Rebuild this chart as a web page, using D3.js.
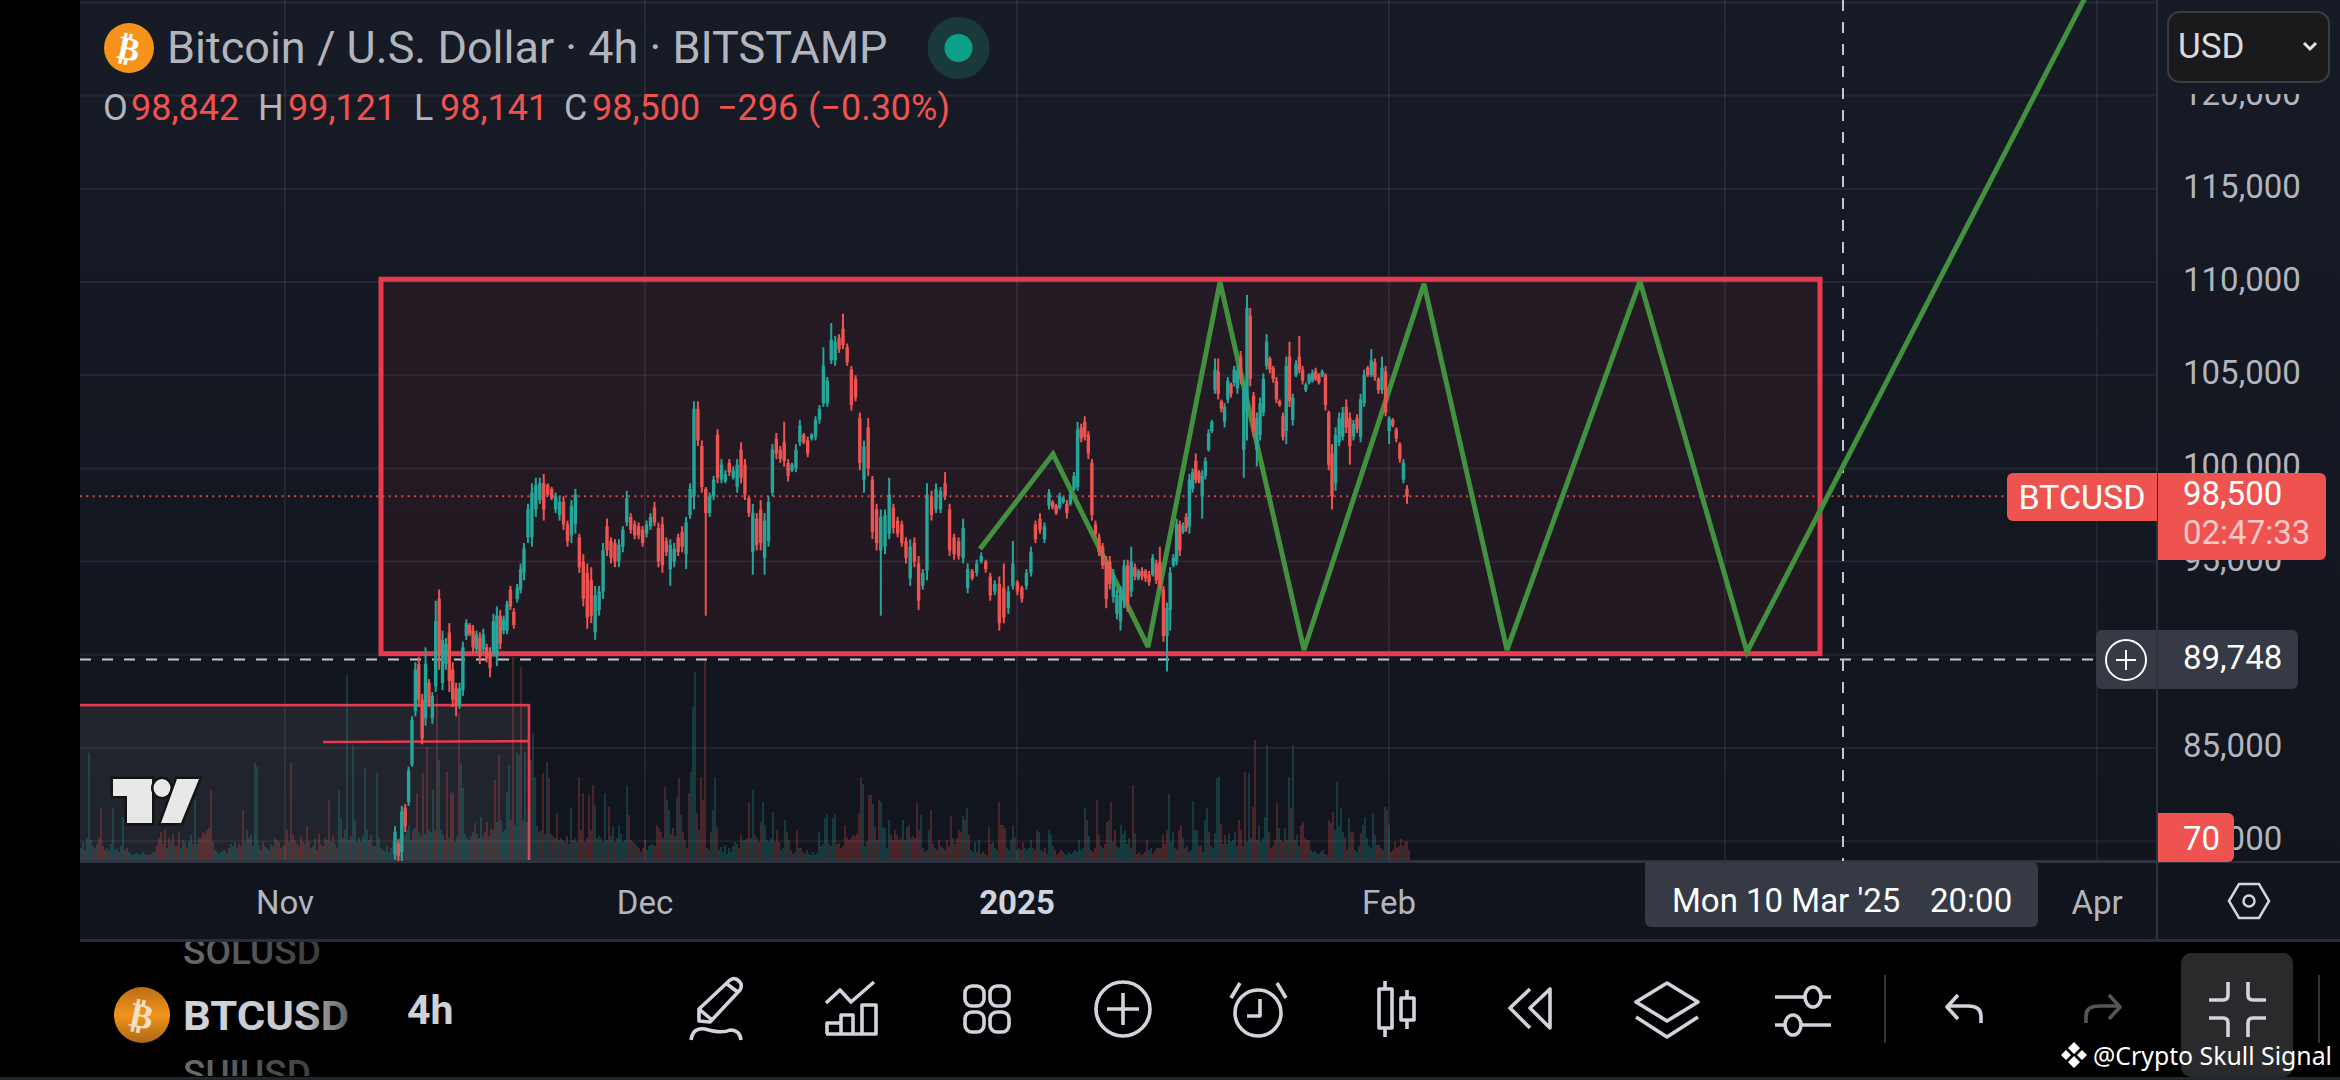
<!DOCTYPE html>
<html><head><meta charset="utf-8">
<script src="https://cdnjs.cloudflare.com/ajax/libs/d3/7.8.5/d3.min.js"></script>
<style>html,body{margin:0;padding:0;background:#000;overflow:hidden}svg{display:block}text{font-family:Roboto,sans-serif}</style>
</head><body><div id="c"></div>
<script>
// ---- chart values (prices in thousand USD) ----
const candleHigh=[80.8,80.1,81.9,82.0,84.0,86.7,89.6,89.9,87.9,90.4,
88.7,88.0,92.9,93.5,91.3,90.9,91.7,89.6,88.5,88.5,
90.7,91.9,91.7,91.6,91.3,91.2,91.4,90.6,90.4,92.2,
92.6,92.4,92.1,92.9,93.7,92.5,93.8,94.9,96.0,98.1,
99.2,99.5,99.5,99.7,99.2,99.0,98.7,98.5,98.5,97.2,
98.3,98.9,96.5,95.4,94.9,94.7,93.7,93.7,96.0,97.3,
96.3,96.2,96.2,96.9,98.8,97.6,97.2,97.1,96.9,97.2,
97.6,98.2,97.1,97.4,96.3,96.2,96.0,96.5,96.9,97.4,
99.2,103.6,103.6,101.5,99.0,98.7,99.6,102.1,100.5,99.9,
100.5,100.1,100.5,101.4,100.5,98.5,98.1,97.6,98.3,97.6,
98.5,101.3,101.9,101.2,102.5,100.5,100.3,101.3,102.6,101.9,
101.7,101.9,102.8,103.4,106.5,104.9,107.8,107.1,107.2,108.3,
106.7,105.5,105.0,103.0,101.5,102.7,99.6,98.1,97.8,97.8,
99.5,98.1,97.4,97.2,96.3,96.2,96.3,95.3,94.6,99.2,
98.8,99.2,99.0,99.8,98.1,96.5,96.3,97.3,94.9,94.6,
95.1,95.5,95.1,94.4,94.0,94.2,94.9,93.7,96.1,94.0,
93.7,94.6,95.8,97.2,97.6,97.1,98.9,98.3,98.1,98.7,
98.5,98.3,98.8,99.8,102.5,102.4,102.8,102.0,100.5,97.2,
96.5,96.0,95.3,95.3,94.6,93.5,93.7,95.1,95.1,95.8,
94.9,94.6,94.7,94.6,94.5,95.4,95.1,95.8,93.7,92.8,
94.7,95.4,97.3,97.2,97.1,97.6,99.7,100.0,100.8,99.9,
99.9,100.6,102.1,102.6,105.9,105.9,103.7,103.5,104.9,104.6,
105.5,105.5,106.3,104.7,109.3,108.6,104.1,103.0,103.8,105.1,
107.2,106.0,105.5,104.9,103.7,103.0,106.0,106.8,104.0,105.8,
107.1,105.5,104.6,105.1,105.3,105.4,105.1,105.3,105.1,103.1,
101.3,102.2,103.0,103.3,103.7,103.0,102.6,102.9,104.0,105.3,
105.5,106.4,105.9,104.9,106.0,105.5,102.8,102.7,102.2,101.4,
100.5,99.1];
const candleLow=[79.0,78.9,78.9,80.5,81.9,84.0,86.7,87.2,85.2,86.2,
87.2,86.3,88.0,89.2,88.1,89.2,88.0,87.2,86.7,87.1,
87.8,90.8,91.0,90.1,90.1,89.5,90.1,89.6,88.8,89.9,
89.4,90.3,91.1,91.1,92.4,91.4,92.8,93.3,94.0,96.0,
95.8,97.4,98.1,97.2,98.5,98.3,97.6,97.2,96.7,95.8,
96.0,96.5,94.4,92.6,91.4,91.7,90.8,92.1,93.0,95.3,
94.9,94.7,94.7,95.5,96.9,96.5,96.2,96.2,95.8,96.3,
96.7,96.9,94.7,94.4,95.3,93.7,94.7,95.3,95.5,94.6,
97.3,97.8,101.2,98.7,92.1,97.4,98.3,99.2,99.2,99.2,
99.6,99.4,98.7,99.2,98.3,97.4,94.3,95.6,95.6,94.3,
95.8,98.5,100.5,100.3,100.1,99.3,99.8,99.8,101.2,101.3,
100.6,101.5,101.5,102.4,103.3,103.3,105.6,105.5,106.2,106.4,
105.5,103.1,103.6,99.9,98.7,99.6,96.2,95.6,92.1,95.4,
96.2,96.5,96.3,95.8,94.9,93.7,94.7,92.4,93.5,94.0,
97.2,97.6,97.6,98.3,95.3,95.1,95.1,94.9,93.3,94.0,
94.2,94.9,94.4,92.9,93.2,91.3,91.7,92.2,93.5,93.2,
92.8,93.5,94.2,96.0,96.5,96.0,97.8,97.8,97.5,97.8,
98.1,97.3,98.0,98.8,98.8,101.4,101.5,100.5,97.2,96.3,
95.3,94.6,92.5,93.5,92.8,91.9,91.3,92.5,92.3,93.1,
94.0,94.0,94.0,93.9,93.7,94.2,93.8,93.5,90.7,89.1,
91.3,94.7,94.8,95.3,96.5,96.6,96.5,98.7,99.2,99.2,
97.3,99.4,100.9,101.9,104.0,103.7,103.0,102.2,103.5,103.8,
104.4,104.0,104.5,99.5,101.5,104.4,101.7,100.1,101.5,102.8,
105.3,105.1,104.6,103.5,103.3,101.5,101.3,103.3,102.3,104.9,
105.1,104.5,104.1,104.5,104.6,104.7,104.5,104.9,103.1,99.9,
97.8,98.8,101.2,101.5,101.9,100.2,101.5,101.9,101.4,103.3,
104.9,104.9,104.7,104.0,104.0,102.8,101.3,102.2,101.4,100.3,
99.2,98.1];
const candleOpen=[79.3,79.9,79.4,81.8,82.1,84.1,87.0,89.5,87.6,86.6,
88.5,86.6,88.3,93.0,88.5,89.5,91.2,89.2,88.2,87.3,
88.1,91.0,91.6,91.3,90.3,90.9,90.3,90.4,90.1,90.1,
89.9,92.1,91.3,91.3,93.5,92.3,93.0,93.5,94.4,96.3,
96.3,97.8,98.3,99.2,99.1,98.9,97.8,97.5,98.2,97.0,
96.4,97.0,96.3,95.0,94.4,94.0,91.2,92.4,93.4,96.9,
96.1,96.0,95.0,95.8,97.1,97.4,97.0,96.9,96.7,96.5,
96.9,97.9,96.8,97.0,96.1,94.6,95.0,96.3,96.6,95.4,
97.5,98.5,103.2,101.2,98.9,97.6,98.5,101.8,99.4,99.3,
100.3,99.5,99.0,101.0,100.2,98.4,95.5,97.3,97.8,95.2,
96.1,98.7,101.6,101.0,101.4,100.3,99.9,100.0,101.4,101.8,
101.5,101.6,101.7,102.6,103.5,103.5,105.8,105.8,107.0,107.5,
106.5,105.3,104.8,102.7,99.4,102.2,99.4,97.8,95.6,95.8,
96.5,97.9,97.2,97.0,96.1,94.1,96.0,94.9,93.7,94.5,
98.5,97.8,97.8,99.2,97.8,96.3,96.1,95.2,93.6,94.5,
94.4,95.0,95.0,94.2,93.4,93.8,93.6,92.5,93.7,93.9,
93.6,93.7,94.4,97.0,97.3,96.2,98.0,98.2,98.0,97.9,
98.2,98.1,98.1,98.9,99.0,102.2,102.5,101.8,100.3,97.0,
96.3,95.8,95.0,95.0,93.1,92.2,91.8,92.9,94.8,93.4,
94.7,94.1,94.5,94.5,94.3,94.3,94.9,95.0,93.5,91.0,
92.4,94.8,95.0,97.0,96.6,97.4,96.9,98.9,100.4,99.8,
98.5,99.6,101.0,102.0,104.2,105.2,103.6,102.5,103.7,104.5,
104.6,104.3,106.0,101.0,103.0,108.2,103.9,101.0,101.8,103.0,
105.5,105.9,105.4,104.7,103.6,102.8,102.0,106.0,102.6,105.0,
106.0,105.3,104.2,104.6,104.7,105.2,105.0,105.0,105.0,103.0,
100.8,99.2,101.4,101.7,103.3,102.7,101.7,102.7,101.7,103.5,
105.4,105.0,105.7,104.8,104.2,105.2,102.0,102.6,102.1,101.3,
99.4,98.9];
const candleClose=[80.5,79.2,81.6,80.8,83.8,86.5,89.2,87.6,85.5,89.5,
87.4,87.8,91.8,90.0,90.8,90.6,88.6,87.6,87.3,88.2,
90.4,91.7,91.1,90.4,91.1,89.9,91.1,89.8,89.3,91.8,
92.1,90.6,91.9,92.7,92.6,91.6,93.6,94.6,95.7,97.8,
98.7,99.1,99.2,97.8,98.6,98.4,98.5,98.2,97.0,96.1,
98.0,98.6,94.7,93.0,92.0,92.1,93.2,93.4,95.6,95.6,
95.2,95.0,95.9,96.7,98.4,96.7,96.4,96.4,96.0,97.0,
97.4,97.1,95.0,94.8,95.5,95.9,95.7,95.5,95.8,97.1,
98.9,103.2,101.5,99.0,97.6,98.5,99.4,99.5,100.2,99.7,
99.8,99.9,100.2,99.5,98.6,97.6,97.6,95.9,96.0,97.2,
98.2,101.0,100.8,100.5,100.4,99.6,100.2,101.0,102.3,101.4,
100.8,101.8,102.6,103.2,105.5,104.7,106.9,106.8,106.4,106.6,
105.7,103.4,103.8,100.3,101.2,100.0,96.6,96.0,97.4,97.5,
98.6,96.8,96.5,96.0,95.2,95.8,95.0,92.9,94.4,98.6,
97.5,98.9,98.8,98.5,95.6,95.4,95.3,96.8,94.6,94.1,
94.9,95.3,94.6,93.2,93.8,91.7,92.0,93.4,94.9,93.4,
93.0,94.4,95.5,96.2,96.7,96.9,98.7,97.9,97.6,98.5,
98.4,97.6,98.6,99.6,102.1,101.6,101.7,100.8,97.5,96.5,
95.5,94.8,93.0,93.8,94.3,93.2,93.4,94.8,92.8,95.0,
94.2,94.5,94.2,94.1,93.9,95.2,94.0,93.7,91.0,92.5,
94.4,95.2,97.0,95.6,96.9,96.8,99.4,99.8,99.4,99.3,
99.6,100.4,101.9,102.5,105.3,104.0,103.2,103.3,104.7,104.0,
105.3,105.2,104.8,104.3,108.6,104.8,102.0,102.7,103.5,104.8,
106.8,105.3,104.8,103.7,103.4,101.7,105.5,103.6,103.8,105.6,
105.3,104.7,104.5,105.0,105.1,104.8,104.6,105.2,103.4,100.2,
98.5,101.8,102.7,103.0,102.2,101.2,102.4,102.1,103.7,105.0,
105.0,105.8,104.9,104.2,105.4,103.0,102.7,102.3,101.6,100.5,
100.3,98.5];
// bar position anchors: bar index -> date
const candleAnchorIndex=[0,38,81,119,139,166,199,224,250,271];
const candleAnchorDate=["2024-11-10T04:00Z","2024-11-20T22:00Z","2024-12-05T02:00Z","2024-12-17T12:00Z","2024-12-24T12:00Z","2025-01-03T16:00Z","2025-01-13T12:00Z","2025-01-20T04:00Z","2025-01-27T06:00Z","2025-02-02T12:00Z"];

// volume per 4h bar: + closes up (teal), - closes down (red), arbitrary units
const volumeStart="2024-10-15T00:00Z";
const volumeSigned=[12,18,-10,22,107,20,14,-12,16,-22,-52,-14,-10,12,-9,16,52,10,12,-8,
14,43,10,-12,8,6,5,6,7,5,6,8,6,-5,5,-6,8,9,-14,-22,
-28,-16,-30,12,-22,18,-26,14,-14,-28,12,20,-18,-12,18,25,-16,60,16,-22,
-22,-28,-26,-30,-32,-70,-18,10,8,6,8,9,10,7,-12,16,14,18,12,-16,
-14,-50,18,30,-22,25,14,97,93,15,-10,-18,14,12,-10,16,-14,22,-20,-18,
-12,14,-16,-30,18,-97,-25,-20,16,-14,-24,-18,16,-34,-18,12,-14,22,-10,-26,
-16,14,-22,20,-60,18,-24,16,-12,70,42,-22,30,185,20,-24,115,40,-18,22,
-18,24,92,30,-20,25,14,-14,87,22,12,-10,9,14,8,12,18,-12,10,22,
25,30,-25,30,35,20,-30,32,-67,28,24,-87,26,-113,30,28,70,-30,-166,100,
30,25,-20,-88,22,-68,-67,18,24,-147,97,72,26,22,20,-24,28,-37,26,-22,
43,24,-28,-38,24,-32,30,-80,38,-105,40,28,30,68,95,-40,-203,35,108,105,
-193,40,108,-38,50,-100,127,83,34,-28,30,-87,26,98,-82,26,-24,22,-47,20,
-22,20,18,-24,16,52,-20,22,18,-83,-30,-67,18,-22,-65,-30,-75,55,22,24,
22,-18,67,20,-53,24,33,-18,22,35,26,18,20,75,-45,-20,18,-16,14,-12,
8,-12,-20,10,14,15,16,-14,-35,-32,-28,22,-73,60,50,-26,-32,24,63,-82,
45,-28,20,-12,-67,88,153,188,-47,30,-83,-60,-202,12,10,-28,50,83,-33,10,
13,8,15,6,12,8,14,18,16,-12,-25,20,20,-22,-57,22,70,-25,22,-18,
-38,58,35,20,18,22,48,-18,-30,-18,10,12,40,-28,20,-10,6,8,-30,12,
-12,8,-6,10,6,5,8,5,7,28,14,16,42,46,-16,14,42,46,-16,-17,
-12,-14,-35,-23,-20,-22,-25,-24,-26,-47,-83,76,14,18,-65,-65,56,-33,20,-60,
58,33,32,12,40,-25,-20,-30,-25,-20,-22,40,-20,33,-35,22,-24,-22,-57,-30,
45,-12,-8,10,30,-50,-16,12,-10,-20,14,-12,10,-20,-14,-44,22,-16,-22,-30,
-28,44,-40,52,-25,10,8,18,-8,20,6,-8,-6,5,-33,-16,18,12,10,-58,
-35,-35,-32,12,10,20,35,-23,10,12,-10,-18,12,10,12,20,12,-10,-30,28,
10,-8,-12,6,30,25,14,-10,-5,-7,-10,-8,6,5,8,6,8,10,8,20,
10,12,52,-40,24,-10,-8,-12,-60,-25,14,12,-16,-38,40,-58,18,-30,14,12,
35,26,30,16,22,12,-75,27,-6,-8,-5,6,-8,-20,10,12,-6,-9,-12,12,
-12,-25,-16,-30,66,18,28,12,-10,-30,-35,22,-12,14,-8,10,59,30,30,-14,
-15,8,40,52,-28,14,12,27,82,83,-36,16,-25,16,27,18,20,28,14,-40,
-30,14,-88,18,87,22,-53,-120,-20,35,18,22,43,115,-28,-12,-14,-20,-57,32,
-20,-18,32,-20,83,-52,115,-20,25,14,-35,-38,-22,-20,-20,10,8,9,7,6,
8,-10,6,5,-40,-37,-48,30,78,34,52,28,-22,-10,42,-28,-28,10,8,14,
-27,35,43,22,14,12,47,25,-15,-15,-12,10,53,-50,35,-8,-10,-18,-12,-14,
-21,14,-18,-19,-10];

// projected zig-zag drawn on the chart
const greenTime=["2024-12-28T22:00Z","2025-01-04T00:00Z","2025-01-11T22:00Z","2025-01-17T22:00Z","2025-01-24T22:00Z","2025-02-03T22:00Z","2025-02-10T20:00Z","2025-02-21T22:00Z","2025-03-02T20:00Z","2025-04-01T06:00Z"];
const greenPrice=[95.68,100.77,90.42,110.0,90.26,109.9,90.26,110.05,90.15,126.8];
// red range boxes
const mainBoxTime=["2024-11-09T00:00Z","2025-03-08T22:00Z"];
const mainBoxPrice=[110.15,90.06];
const oldBoxTime=["2024-09-30T00:00Z","2024-11-21T08:00Z"];
const oldBoxPrice=[87.3,77.0];
const oldSegTime=["2024-11-04T04:00Z","2024-11-21T08:00Z"];
const oldSegPrice=[85.32,85.37];

const priceTicks=[125,120,115,110,105,100,95,90,85,80];
const hiddenPriceTickLabels=[125,90];
const monthTickDates=["2024-11-01","2024-12-01","2025-01-01","2025-02-01","2025-03-01","2025-04-01"];
const monthTickLabels=["Nov","Dec","2025","Feb","","Apr"];
const lastPrice=98.5, crossPrice=89.748, crossTime="2025-03-10T20:00Z";

const legendHead=["O","H","L","C"];
const legendVals=["98,842","99,121","98,141","98,500"];
const legendHeadX=[103,258,414,564];
const legendValX=[131,288,440,592];

// ---- layout ----
const W=2340,H=1080,L=80,AX=2157,BOT=862,PANEL=941;
const date=s=>new Date(s);
const x=d3.scaleUtc().domain([date("2024-11-01T00:00Z"),date("2025-04-01T00:00Z")]).range([285,2097]);
const y=d3.scaleLinear().domain([85,110]).range([748,282]);
const vy=d3.scaleLinear().domain([0,300]).range([860,560]);
const barTime=d3.scaleLinear().domain(candleAnchorIndex).range(candleAnchorDate.map(s=>+date(s)));
const fmt=d3.format(",");
const GREY="#b2b5be",RED="#ef5350",TEAL="#26a69a",ICON="#d1d4dc";

const svg=d3.select("#c").append("svg").attr("width",W).attr("height",H).attr("viewBox",`0 0 ${W} ${H}`);
const defs=svg.append("defs");
const bg=defs.append("linearGradient").attr("id","bg").attr("x1",0).attr("x2",0).attr("y1",0).attr("y2",1);
bg.append("stop").attr("offset",0).attr("stop-color","#171b26");
bg.append("stop").attr("offset",1).attr("stop-color","#11141c");
defs.append("clipPath").attr("id","plot").append("rect").attr("x",L).attr("y",0).attr("width",AX-L).attr("height",BOT);
defs.append("clipPath").attr("id","list").append("rect").attr("x",150).attr("y",942).attr("width",300).attr("height",134);
defs.append("clipPath").attr("id","axisTop").append("rect").attr("x",2158).attr("y",94).attr("width",182).attr("height",790);
const fade=defs.append("linearGradient").attr("id","fade").attr("gradientUnits","userSpaceOnUse").attr("x1",183).attr("x2",352).attr("y1",0).attr("y2",0);
fade.append("stop").attr("offset",0).attr("stop-color","#d1d4dc");
fade.append("stop").attr("offset",.7).attr("stop-color","#c6c8ce");
fade.append("stop").attr("offset",1).attr("stop-color","#55575c");
const fade2=defs.append("linearGradient").attr("id","fade2").attr("gradientUnits","userSpaceOnUse").attr("x1",183).attr("x2",352).attr("y1",0).attr("y2",0);
fade2.append("stop").attr("offset",0).attr("stop-color","#6a6c70");
fade2.append("stop").attr("offset",1).attr("stop-color","#303133");
const orange=defs.append("linearGradient").attr("id","orange").attr("x1",0).attr("x2",0).attr("y1",0).attr("y2",1);
orange.append("stop").attr("offset",0).attr("stop-color","#b96f18");
orange.append("stop").attr("offset",.5).attr("stop-color","#f2921c");
orange.append("stop").attr("offset",1).attr("stop-color","#ad6815");

svg.append("rect").attr("width",W).attr("height",H).attr("fill","#000");
svg.append("rect").attr("x",L).attr("y",0).attr("width",W-L).attr("height",PANEL).attr("fill","url(#bg)");

const plot=svg.append("g").attr("clip-path","url(#plot)");
// grid
plot.append("g").selectAll("line").data(priceTicks).join("line").attr("x1",L).attr("x2",AX).attr("y1",d=>y(d)).attr("y2",d=>y(d)).attr("stroke","#f0f3fa").attr("stroke-opacity",.07).attr("stroke-width",2);
plot.append("g").selectAll("line").data(monthTickDates).join("line").attr("x1",d=>x(date(d+"T00:00Z"))).attr("x2",d=>x(date(d+"T00:00Z"))).attr("y1",0).attr("y2",BOT).attr("stroke","#f0f3fa").attr("stroke-opacity",.07).attr("stroke-width",2);

// old box behind volume
const rectOf=(t,p)=>({x:x(date(t[0])),y:y(p[0]),w:x(date(t[1]))-x(date(t[0])),h:y(p[1])-y(p[0])});
const ob=rectOf(oldBoxTime,oldBoxPrice);
plot.append("rect").attr("x",ob.x).attr("y",ob.y).attr("width",ob.w).attr("height",ob.h).attr("fill","#ffffff").attr("fill-opacity",.065);
plot.append("rect").attr("x",ob.x).attr("y",ob.y).attr("width",ob.w).attr("height",ob.h).attr("fill","none").attr("stroke","#e8394f").attr("stroke-width",2.6);
plot.append("line").attr("x1",x(date(oldSegTime[0]))).attr("x2",x(date(oldSegTime[1]))).attr("y1",y(oldSegPrice[0])).attr("y2",y(oldSegPrice[1])).attr("stroke","#e8394f").attr("stroke-width",2.6);

// volume
const vStart=+date(volumeStart);
plot.append("g").selectAll("line").data(volumeSigned).join("line")
 .attr("x1",(d,i)=>x(new Date(vStart+i*4*3600e3))).attr("x2",(d,i)=>x(new Date(vStart+i*4*3600e3)))
 .attr("y1",vy(0)).attr("y2",d=>vy(Math.abs(d)))
 .attr("stroke",d=>d>=0?TEAL:RED).attr("stroke-opacity",.48).attr("stroke-width",1.1);
plot.append("line").attr("x1",L).attr("x2",AX).attr("y1",861).attr("y2",861).attr("stroke","#2e323e").attr("stroke-width",2);

// main box
const mb=rectOf(mainBoxTime,mainBoxPrice);
plot.append("rect").attr("x",mb.x).attr("y",mb.y).attr("width",mb.w).attr("height",mb.h).attr("fill","#f23645").attr("fill-opacity",.07);

// crosshair and last price
plot.append("line").attr("x1",L).attr("x2",2007).attr("y1",y(lastPrice)).attr("y2",y(lastPrice)).attr("stroke",RED).attr("stroke-width",2).attr("stroke-dasharray","2 4.3").attr("stroke-opacity",.85);
plot.append("line").attr("x1",L).attr("x2",2096).attr("y1",y(crossPrice)).attr("y2",y(crossPrice)).attr("stroke","#c4c6cd").attr("stroke-width",2).attr("stroke-dasharray","11 11");
plot.append("line").attr("x1",x(date(crossTime))).attr("x2",x(date(crossTime))).attr("y1",0).attr("y2",BOT).attr("stroke","#c4c6cd").attr("stroke-width",2).attr("stroke-dasharray","11 11");

plot.append("rect").attr("x",mb.x).attr("y",mb.y).attr("width",mb.w).attr("height",mb.h).attr("fill","none").attr("stroke","#e8394f").attr("stroke-width",5);

// zig-zag
plot.append("path").attr("d",d3.line().x(d=>x(date(d[0]))).y(d=>y(d[1]))(greenTime.map((t,i)=>[t,greenPrice[i]]))).attr("fill","none").attr("stroke","#41913f").attr("stroke-width",5).attr("stroke-linejoin","miter").attr("stroke-miterlimit",3);

// candles
const cg=plot.append("g");
candleHigh.forEach((h,i)=>{
 const cx=x(new Date(barTime(i))),o=candleOpen[i],c=candleClose[i],col=c>=o?TEAL:RED;
 cg.append("line").attr("x1",cx).attr("x2",cx).attr("y1",y(h)).attr("y2",y(candleLow[i])).attr("stroke",col).attr("stroke-width",2);
 cg.append("rect").attr("x",cx-1.7).attr("width",3.4).attr("y",y(Math.max(o,c))).attr("height",Math.max(1,Math.abs(y(o)-y(c)))).attr("fill",col);
});

// TradingView mark
const tv=svg.append("g").attr("fill","#e8e8e8").attr("stroke","#141414").attr("stroke-width",5).attr("paint-order","stroke");
tv.append("path").attr("d","M113 779H152V823H127V796H113Z");
tv.append("ellipse").attr("cx",162).attr("cy",788).attr("rx",8.5).attr("ry",9);
tv.append("path").attr("d","M177 779H199L181 823H161Z");

// price axis
svg.append("line").attr("x1",AX).attr("x2",AX).attr("y1",0).attr("y2",939).attr("stroke","#2e323e").attr("stroke-width",2);
svg.append("line").attr("x1",L).attr("x2",W).attr("y1",BOT).attr("y2",BOT).attr("stroke","#2e323e").attr("stroke-width",2);
svg.append("g").attr("clip-path","url(#axisTop)").selectAll("text").data(priceTicks.filter(d=>!hiddenPriceTickLabels.includes(d))).join("text").attr("x",2183).attr("y",d=>y(d)+9).attr("fill",GREY).attr("font-size",33).text(d=>fmt(d*1000));

// time axis
svg.append("g").selectAll("text").data(monthTickDates).join("text").attr("x",d=>x(date(d+"T00:00Z"))).attr("y",914).attr("text-anchor","middle").attr("fill",(d,i)=>monthTickLabels[i]==="2025"?"#d1d4dc":GREY).attr("font-weight",(d,i)=>monthTickLabels[i]==="2025"?700:400).attr("font-size",33).text((d,i)=>monthTickLabels[i]);
svg.append("path").attr("d","M1651 862H2032a6 6 0 0 1 6 6V921a6 6 0 0 1-6 6H1651a6 6 0 0 1-6-6V862Z").attr("fill","#363a45");
svg.append("text").attr("x",1672).attr("y",912).attr("fill","#fff").attr("font-size",33).text("Mon 10 Mar '25");
svg.append("text").attr("x",1930).attr("y",912).attr("fill","#fff").attr("font-size",33).text("20:00");
// settings hexagon
svg.append("path").attr("d","M2229 901L2239 884H2259L2269 901L2259 918H2239Z").attr("fill","none").attr("stroke",ICON).attr("stroke-width",2.5);
svg.append("circle").attr("cx",2249).attr("cy",901).attr("r",5.5).attr("fill","none").attr("stroke",ICON).attr("stroke-width",2.5);

// price labels
svg.append("path").attr("d","M2013 473H2157V521H2013a6 6 0 0 1-6-6V479a6 6 0 0 1 6-6Z").attr("fill",RED);
svg.append("text").attr("x",2082).attr("y",509).attr("text-anchor","middle").attr("fill","#fff").attr("font-size",34).text("BTCUSD");
svg.append("path").attr("d","M2158 473H2320a6 6 0 0 1 6 6V554a6 6 0 0 1-6 6H2158Z").attr("fill",RED);
svg.append("text").attr("x",2183).attr("y",505).attr("fill","#fff").attr("font-size",33).text(fmt(lastPrice*1000));
svg.append("text").attr("x",2183).attr("y",544).attr("fill","#fcc9c8").attr("font-size",33).text("02:47:33");
svg.append("path").attr("d","M2102 630H2292a6 6 0 0 1 6 6V683a6 6 0 0 1-6 6H2102a6 6 0 0 1-6-6V636a6 6 0 0 1 6-6Z").attr("fill","#363a45");
svg.append("line").attr("x1",AX).attr("x2",AX).attr("y1",630).attr("y2",689).attr("stroke","#2e323e").attr("stroke-width",2);
svg.append("circle").attr("cx",2126).attr("cy",660).attr("r",20).attr("fill","none").attr("stroke","#fff").attr("stroke-width",2);
svg.append("path").attr("d","M2126 650V670M2116 660H2136").attr("stroke","#fff").attr("stroke-width",2);
svg.append("text").attr("x",2183).attr("y",669).attr("fill","#fff").attr("font-size",33).text(fmt(Math.round(crossPrice*1000)));
svg.append("path").attr("d","M2158 813H2228a6 6 0 0 1 6 6V856a6 6 0 0 1-6 6H2158Z").attr("fill",RED);
svg.append("text").attr("x",2183).attr("y",850).attr("fill","#fff").attr("font-size",33).text("70");

// currency box
svg.append("rect").attr("x",2168).attr("y",12).attr("width",161).attr("height",70).attr("rx",12).attr("fill","#1a1a1c").attr("stroke","#3c3d41").attr("stroke-width",2);
svg.append("text").attr("x",2178).attr("y",58).attr("fill","#d9dadd").attr("font-size",35).text("USD");
svg.append("path").attr("d","M2304 43L2310 49L2316 43").attr("fill","none").attr("stroke","#e4e4e6").attr("stroke-width",3);

// legend
svg.append("circle").attr("cx",129).attr("cy",48).attr("r",25).attr("fill","#f7931a");
svg.append("text").attr("x",129).attr("y",60).attr("text-anchor","middle").attr("fill","#fff").attr("font-size",33).attr("font-weight",700).attr("transform","rotate(12 129 48)").style("font-family","'DejaVu Sans'").text("₿");
svg.append("text").attr("x",167).attr("y",63).attr("fill",GREY).attr("font-size",45).text("Bitcoin / U.S. Dollar · 4h · BITSTAMP");
svg.append("circle").attr("cx",958.5).attr("cy",48).attr("r",31).attr("fill","#19393b");
svg.append("circle").attr("cx",958.5).attr("cy",48).attr("r",14).attr("fill","#0ca189");
legendHead.forEach((h,i)=>{
 svg.append("text").attr("x",legendHeadX[i]).attr("y",120).attr("fill",GREY).attr("font-size",36).text(h);
 svg.append("text").attr("x",legendValX[i]).attr("y",120).attr("fill",RED).attr("font-size",36).text(legendVals[i]);
});
svg.append("text").attr("x",717).attr("y",120).attr("fill",RED).attr("font-size",36).text("−296");
svg.append("text").attr("x",808).attr("y",120).attr("fill",RED).attr("font-size",36).text("(−0.30%)");

// ---- bottom toolbar ----
svg.append("rect").attr("x",L).attr("y",939).attr("width",W-L).attr("height",3).attr("fill","#2a2e39");
const lst=svg.append("g").attr("clip-path","url(#list)");
lst.append("text").attr("x",183).attr("y",964).attr("fill","url(#fade2)").attr("font-size",37).attr("font-weight",500).text("SOLUSD");
lst.append("text").attr("x",183).attr("y",1086).attr("fill","url(#fade2)").attr("font-size",37).attr("font-weight",500).text("SUIUSD");
svg.append("circle").attr("cx",142).attr("cy",1015).attr("r",28).attr("fill","url(#orange)");
svg.append("text").attr("x",142).attr("y",1028).attr("text-anchor","middle").attr("fill","#f4dfc0").attr("font-size",35).attr("font-weight",700).attr("transform","rotate(12 142 1015)").style("font-family","'DejaVu Sans'").text("₿");
svg.append("text").attr("x",183).attr("y",1030).attr("fill","url(#fade)").attr("font-size",41).attr("font-weight",700).attr("textLength",166).attr("lengthAdjust","spacingAndGlyphs").text("BTCUSD");
svg.append("text").attr("x",407).attr("y",1024).attr("fill","#cfd1d6").attr("font-size",41).attr("font-weight",700).text("4h");

// compress background
svg.append("rect").attr("x",2181).attr("y",953).attr("width",112).attr("height",124).attr("rx",10).attr("fill","#2a2a2c");

const ic=svg.append("g").attr("fill","none").attr("stroke",ICON).attr("stroke-width",3.6).attr("stroke-linejoin","round");
// pencil
ic.append("path").attr("d","M699 1021V1009L730 980Q735 977 739 981Q743 985 740 990L710 1022Z M699 1009L712 1020 M727 984L739 993");
ic.append("path").attr("d","M691 1040Q693 1027 705 1029Q722 1034 730 1030Q740 1030 741 1040");
// indicators
ic.append("path").attr("d","M826 1003L840 990L851 1002L874 982");
ic.append("path").attr("d","M826 1034H876V1005H862V1034 M827 1034V1023H841V1034 M841 1034V1015H853V1034");
// grid
[[965,986],[990,986],[965,1012],[990,1012]].forEach(p=>ic.append("rect").attr("x",p[0]).attr("y",p[1]).attr("width",19).attr("height",20).attr("rx",7));
// add
ic.append("circle").attr("cx",1123).attr("cy",1009).attr("r",27);
ic.append("path").attr("d","M1123 993V1025M1107 1009H1139");
// alarm
ic.append("circle").attr("cx",1258).attr("cy",1013).attr("r",23);
ic.append("path").attr("d","M1260 999V1016H1247 M1240 983L1231 998 M1277 983L1286 998");
// candles icon
ic.append("rect").attr("x",1379).attr("y",989).attr("width",13).attr("height",39);
ic.append("rect").attr("x",1401).attr("y",998).attr("width",13).attr("height",22);
ic.append("path").attr("d","M1385 981V989M1385 1028V1037M1407 990V998M1407 1020V1029");
// rewind
ic.append("path").attr("d","M1550 989V1028L1530 1008Z M1530 989L1510 1008L1530 1028");
// layers
ic.append("path").attr("d","M1667 983L1698 1002L1667 1021L1636 1002Z M1636 1017L1667 1037L1698 1017");
// sliders
ic.append("path").attr("d","M1775 997H1805M1821 997H1831 M1775 1025H1785M1801 1025H1831");
ic.append("ellipse").attr("cx",1813).attr("cy",997).attr("rx",8).attr("ry",10);
ic.append("ellipse").attr("cx",1793).attr("cy",1025).attr("rx",8).attr("ry",10);
// divider
svg.append("line").attr("x1",1885).attr("x2",1885).attr("y1",975).attr("y2",1043).attr("stroke","#333").attr("stroke-width",2);
// undo / redo
ic.append("path").attr("d","M1981 1023V1016Q1981 1006 1968 1006H1948M1958 995L1947 1007L1958 1019");
ic.append("path").attr("d","M2086 1023V1016Q2086 1006 2099 1006H2119M2109 995L2120 1007L2109 1019").attr("stroke","#555");
// compress
ic.append("path").attr("d","M2228 982V995Q2228 1000 2223 1000H2209");
ic.append("path").attr("d","M2248 982V995Q2248 1000 2253 1000H2266");
ic.append("path").attr("d","M2209 1018H2223Q2228 1018 2228 1023V1037");
ic.append("path").attr("d","M2266 1018H2253Q2248 1018 2248 1023V1037");
svg.append("line").attr("x1",2319).attr("x2",2319).attr("y1",975).attr("y2",1043).attr("stroke","#333").attr("stroke-width",2);
svg.append("rect").attr("x",0).attr("y",1077).attr("width",W).attr("height",3).attr("fill","#23262f");
// watermark
const wm=svg.append("g").attr("fill","#fff");
wm.append("path").attr("d","M2074 1042L2080 1048L2074 1054L2068 1048Z M2066 1050L2071 1055L2066 1060L2061 1055Z M2082 1050L2087 1055L2082 1060L2077 1055Z M2074 1056L2080 1062L2074 1068L2068 1062Z");
svg.append("text").attr("x",2093).attr("y",1065).attr("fill","#fff").attr("font-size",26).style("font-family","'Noto Sans'").attr("textLength",239).attr("lengthAdjust","spacingAndGlyphs").text("@Crypto Skull Signal");
</script></body></html>
